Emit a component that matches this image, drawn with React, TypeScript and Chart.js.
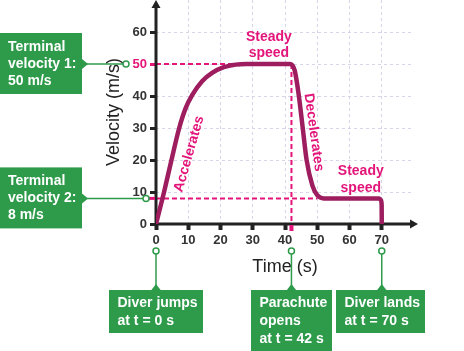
import React, { useEffect, useRef } from 'react';
import { Chart, registerables } from 'chart.js';

Chart.register(...registerables);

// ---- data ----
const timeSeconds = [0, 2.5, 4.8, 7.2, 9.2, 11.3, 14.3, 17.4, 21, 24.7, 28, 41.5, 43, 44.3, 45.5, 46.7, 48.5, 50, 52, 60, 69.2, 69.75, 69.97, 70];
const velocity = [0, 10, 20, 30, 36.2, 40.4, 44.6, 47.2, 49, 49.8, 50, 50, 48, 40, 30, 20, 12, 9, 8, 8, 8, 7.5, 6, 0];
const terminalVelocities = [50, 8];
const terminalLabels = [
  ['Terminal', 'velocity 1:', '50 m/s'],
  ['Terminal', 'velocity 2:', '8 m/s'],
];
const eventTimes = [0, 42, 70];
const eventLabels = [
  ['Diver jumps', 'at t = 0 s'],
  ['Parachute', 'opens', 'at t = 42 s'],
  ['Diver lands', 'at t = 70 s'],
];
const phaseLabels = ['Accelerates', 'Steady speed', 'Decelerates', 'Steady speed'];
const xAxisMax = 80;
const yAxisMax = 70;

// ---- styles ----
const DARK = '#222222';
const TICK_TEXT = '#333333';
const PINK = '#e4157a';
const CURVE = '#9d1d5f';
const GREEN = '#2e9b4b';
const GRID = '#d8d5e8';
const FONT = "'Liberation Sans', Arial, sans-serif";

function textLines(ctx: CanvasRenderingContext2D, lines: string[], x: number, y0: number, gap: number, align: CanvasTextAlign) {
  ctx.textAlign = align;
  ctx.textBaseline = 'middle';
  lines.forEach((l, i) => ctx.fillText(l, x, y0 + i * gap));
}

function rotText(ctx: CanvasRenderingContext2D, text: string, cx: number, cy: number, deg: number) {
  ctx.save();
  ctx.translate(cx, cy);
  ctx.rotate((deg * Math.PI) / 180);
  ctx.textAlign = 'center';
  ctx.textBaseline = 'middle';
  ctx.fillText(text, 0, 0);
  ctx.restore();
}

function circle(ctx: CanvasRenderingContext2D, x: number, y: number) {
  ctx.beginPath();
  ctx.arc(x, y, 3, 0, Math.PI * 2);
  ctx.fillStyle = '#ffffff';
  ctx.fill();
  ctx.lineWidth = 1.5;
  ctx.strokeStyle = GREEN;
  ctx.stroke();
}

const overlayPlugin = {
  id: 'overlay',
  beforeDatasetsDraw(chart: any) {
    const { ctx, scales } = chart;
    const x = scales.x;
    const y = scales.y;
    const x0 = x.getPixelForValue(0);
    const y0 = y.getPixelForValue(0);
    ctx.save();
    // dashed guide lines
    ctx.strokeStyle = PINK;
    ctx.lineWidth = 2;
    ctx.setLineDash([5, 3]);
    ctx.beginPath();
    ctx.moveTo(x0, y.getPixelForValue(terminalVelocities[0]));
    ctx.lineTo(x.getPixelForValue(eventTimes[1]), y.getPixelForValue(terminalVelocities[0]));
    ctx.moveTo(x.getPixelForValue(eventTimes[1]), y.getPixelForValue(terminalVelocities[0]));
    ctx.lineTo(x.getPixelForValue(eventTimes[1]), y0);
    ctx.moveTo(x0, y.getPixelForValue(terminalVelocities[1]));
    ctx.lineTo(x.getPixelForValue(50), y.getPixelForValue(terminalVelocities[1]));
    ctx.stroke();
    ctx.setLineDash([]);

    // axes with arrows
    const xEnd = chart.chartArea.right + 4;
    ctx.strokeStyle = DARK;
    ctx.fillStyle = DARK;
    ctx.lineWidth = 3;
    ctx.beginPath();
    ctx.moveTo(x0, y0 + 1.5);
    ctx.lineTo(x0, 6);
    ctx.moveTo(x0 - 1.5, y0);
    ctx.lineTo(xEnd - 6, y0);
    ctx.stroke();
    ctx.beginPath();
    ctx.moveTo(x0, 0);
    ctx.lineTo(x0 + 4.5, 8);
    ctx.lineTo(x0 - 4.5, 8);
    ctx.closePath();
    ctx.fill();
    ctx.beginPath();
    ctx.moveTo(xEnd, y0);
    ctx.lineTo(xEnd - 8, y0 - 4.5);
    ctx.lineTo(xEnd - 8, y0 + 4.5);
    ctx.closePath();
    ctx.fill();

    // extra pink tick marks
    ctx.fillStyle = PINK;
    ctx.fillRect(x0 - 7, y.getPixelForValue(terminalVelocities[1]) - 1.5, 6, 3);
    ctx.fillRect(x.getPixelForValue(eventTimes[1]) - 2, y0 + 1, 4, 6);
    ctx.restore();
  },
  afterDraw(chart: any) {
    const { ctx, scales } = chart;
    const x = scales.x;
    const y = scales.y;
    ctx.save();

    // phase annotations
    ctx.fillStyle = PINK;
    ctx.font = `bold 14px ${FONT}`;
    rotText(ctx, phaseLabels[0], x.getPixelForValue(10.3), y.getPixelForValue(21.9), -74);
    textLines(ctx, ['Steady', 'speed'], x.getPixelForValue(35), y.getPixelForValue(58.5), 16, 'center');
    rotText(ctx, phaseLabels[2], x.getPixelForValue(48.9), y.getPixelForValue(28.6), 82);
    textLines(ctx, ['Steady', 'speed'], x.getPixelForValue(63.5), y.getPixelForValue(16.6), 17, 'center');

    // left boxes (terminal velocities)
    const circleXs = [126, 146];
    terminalVelocities.forEach((v, i) => {
      const cy = y.getPixelForValue(v);
      ctx.fillStyle = GREEN;
      ctx.fillRect(0, cy - 31, 82, 61);
      ctx.beginPath();
      ctx.moveTo(82, cy - 5);
      ctx.lineTo(88, cy);
      ctx.lineTo(82, cy + 5);
      ctx.closePath();
      ctx.fill();
      ctx.strokeStyle = GREEN;
      ctx.lineWidth = 1.5;
      ctx.beginPath();
      ctx.moveTo(86, cy);
      ctx.lineTo(circleXs[i] - 3, cy);
      ctx.stroke();
      circle(ctx, circleXs[i], cy);
      ctx.fillStyle = '#ffffff';
      ctx.font = `bold 14px ${FONT}`;
      textLines(ctx, terminalLabels[i], 8, cy - 17, 17, 'left');
    });

    // bottom boxes (events)
    const boxes = [
      { left: 109, w: 94, h: 43 },
      { left: 251, w: 81, h: 61 },
      { left: 336, w: 89, h: 43 },
    ];
    eventTimes.forEach((t, i) => {
      const cx = x.getPixelForValue(t);
      const b = boxes[i];
      const top = 290;
      ctx.fillStyle = GREEN;
      ctx.fillRect(b.left, top, b.w, b.h);
      ctx.beginPath();
      ctx.moveTo(cx - 5, top + 0.5);
      ctx.lineTo(cx, top - 6);
      ctx.lineTo(cx + 5, top + 0.5);
      ctx.closePath();
      ctx.fill();
      ctx.strokeStyle = GREEN;
      ctx.lineWidth = 1.5;
      ctx.beginPath();
      ctx.moveTo(cx, 254);
      ctx.lineTo(cx, top - 4);
      ctx.stroke();
      circle(ctx, cx, 251);
      ctx.fillStyle = '#ffffff';
      ctx.font = `bold 14px ${FONT}`;
      textLines(ctx, eventLabels[i], b.left + 8.5, 303, 18, 'left');
    });
    ctx.restore();
  },
};

export default function App() {
  const ref = useRef<HTMLCanvasElement | null>(null);

  useEffect(() => {
    if (!ref.current) return;
    const chart = new Chart(ref.current, {
      type: 'line',
      data: {
        datasets: [
          {
            data: timeSeconds.map((t, i) => ({ x: t, y: velocity[i] })),
            borderColor: CURVE,
            borderWidth: 4.5,
            pointRadius: 0,
            cubicInterpolationMode: 'monotone',
            borderCapStyle: 'round',
            borderJoinStyle: 'round',
            fill: false,
          },
        ],
      },
      options: {
        animation: false,
        responsive: false,
        devicePixelRatio: 1,
        layout: { padding: { left: 0, right: 50, top: 0, bottom: 0 } },
        plugins: { legend: { display: false }, tooltip: { enabled: false } },
        scales: {
          x: {
            type: 'linear',
            min: 0,
            max: xAxisMax,
            afterFit: (s: any) => {
              s.height = 127;
            },
            ticks: {
              stepSize: 10,
              padding: 3,
              maxRotation: 0,
              color: TICK_TEXT,
              font: { family: FONT, size: 13, weight: 'bold' },
              callback: (v: any) => (v === xAxisMax ? null : String(v)),
            },
            grid: {
              color: (c: any) => (c.tick && (c.tick.value === 0 || c.tick.value === xAxisMax) ? 'rgba(0,0,0,0)' : GRID),
              lineWidth: 1,
              drawTicks: true,
              tickLength: 6,
              tickWidth: 4,
              tickColor: (c: any) => (c.tick && c.tick.value === xAxisMax ? 'rgba(0,0,0,0)' : DARK),
              tickBorderDash: [],
            },
            border: { display: false, dash: [3, 3] },
            title: {
              display: true,
              text: 'Time (s)',
              color: DARK,
              font: { family: FONT, size: 18, weight: 'normal' },
              padding: { top: 0, bottom: 73 },
            },
          },
          y: {
            type: 'linear',
            min: 0,
            max: yAxisMax,
            afterFit: (s: any) => {
              s.width = 156;
              s.paddingTop = 0;
            },
            ticks: {
              stepSize: 10,
              padding: 3,
              color: (c: any) => (c.tick && c.tick.value === terminalVelocities[0] ? PINK : TICK_TEXT),
              font: { family: FONT, size: 13, weight: 'bold' },
              callback: (v: any) => (v === yAxisMax ? null : String(v)),
            },
            grid: {
              color: (c: any) => (c.tick && (c.tick.value === 0 || c.tick.value === yAxisMax) ? 'rgba(0,0,0,0)' : GRID),
              lineWidth: 1,
              drawTicks: true,
              tickLength: 6,
              tickWidth: 3,
              tickColor: (c: any) =>
                c.tick && c.tick.value === yAxisMax ? 'rgba(0,0,0,0)' : c.tick && c.tick.value === terminalVelocities[0] ? PINK : DARK,
              tickBorderDash: [],
            },
            border: { display: false, dash: [3, 3] },
            title: {
              display: true,
              text: 'Velocity (m/s)',
              color: DARK,
              font: { family: FONT, size: 18, weight: 'normal' },
              padding: { top: 103, bottom: 0 },
            },
          },
        },
      },
      plugins: [overlayPlugin],
    } as any);
    return () => chart.destroy();
  }, []);

  return (
    <div style={{ position: 'absolute', left: 0, top: 0, width: 464, height: 351, background: '#ffffff' }}>
      <canvas ref={ref} width={464} height={351} />
    </div>
  );
}
